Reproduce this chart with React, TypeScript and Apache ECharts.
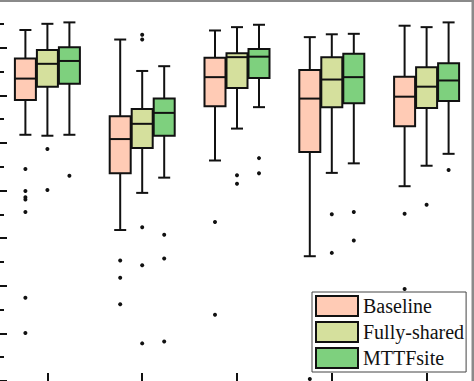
import React, { useEffect, useRef } from "react";
import * as echarts from "echarts";

// five groups (tick labels are cropped out of the reference)
const categories = ["G1", "G2", "G3", "G4", "G5"];
const methods = ["Baseline", "Fully-shared", "MTTFsite"];
const colors = ["#FFCBB5", "#D5E09D", "#7ED07E"];

// [min, Q1, median, Q3, max] per group
const baselineBoxes = [
  [5.17, 5.9, 6.35, 6.77, 7.37],
  [3.17, 4.36, 5.08, 5.56, 7.17],
  [4.63, 5.77, 6.38, 6.79, 7.36],
  [2.62, 4.81, 5.93, 6.53, 7.22],
  [4.09, 5.35, 5.97, 6.39, 7.46],
];
const fullyBoxes = [
  [5.15, 6.18, 6.66, 6.95, 7.5],
  [3.95, 4.89, 5.4, 5.71, 6.51],
  [5.3, 6.15, 6.8, 6.88, 7.43],
  [4.37, 5.75, 6.33, 6.8, 7.28],
  [4.52, 5.73, 6.18, 6.59, 7.43],
];
const mttfBoxes = [
  [5.17, 6.24, 6.72, 7.01, 7.53],
  [4.27, 5.15, 5.63, 5.93, 6.61],
  [5.75, 6.36, 6.81, 6.97, 7.48],
  [4.57, 5.83, 6.38, 6.87, 7.29],
  [4.77, 5.88, 6.31, 6.67, 7.53],
];

// outliers per group
const baselineOutliers = [
  [4.45, 3.99, 3.86, 3.81, 3.55, 1.75, 1.01],
  [2.53, 2.17, 1.61],
  [3.34, 1.39],
  [0.04],
  [3.51, 1.93],
];
const fullyOutliers = [
  [4.87, 4.01],
  [7.27, 7.17, 3.23, 2.43, 0.79],
  [4.32, 4.14],
  [3.5, 2.69],
  [3.7],
];
const mttfOutliers = [
  [4.31],
  [3.07, 2.57, 0.83],
  [4.68, 4.36],
  [3.55, 2.95],
  [4.43],
];

const allBoxes = [baselineBoxes, fullyBoxes, mttfBoxes];
const allOutliers = [baselineOutliers, fullyOutliers, mttfOutliers];
const offsets = [-22, 0, 22];

const INK = "#111";
const SERIF = "'Liberation Serif', 'Times New Roman', serif";

export default function App() {
  const ref = useRef<HTMLDivElement>(null);

  useEffect(() => {
    if (!ref.current) return;
    const chart = echarts.init(ref.current, null, { renderer: "svg" });

    const boxSeries = methods.map((name, si) => ({
      type: "custom",
      name,
      itemStyle: { color: colors[si], borderColor: INK, borderWidth: 2 },
      encode: { x: 0, y: [1, 2, 3, 4, 5] },
      data: allBoxes[si].map((b, ci) => [ci, ...b]),
      z: 2,
      renderItem: (params: any, api: any) => {
        const c = api.value(0);
        const off = offsets[si];
        const pMin = api.coord([c, api.value(1)]);
        const pQ1 = api.coord([c, api.value(2)]);
        const pMed = api.coord([c, api.value(3)]);
        const pQ3 = api.coord([c, api.value(4)]);
        const pMax = api.coord([c, api.value(5)]);
        const x = pMin[0] + off;
        const hw = 10.5;
        const cap = 6;
        const ls = { stroke: INK, lineWidth: 2 };
        return {
          type: "group",
          children: [
            { type: "line", shape: { x1: x, y1: pMax[1], x2: x, y2: pQ3[1] }, style: ls },
            { type: "line", shape: { x1: x, y1: pQ1[1], x2: x, y2: pMin[1] }, style: ls },
            { type: "line", shape: { x1: x - cap, y1: pMax[1], x2: x + cap, y2: pMax[1] }, style: ls },
            { type: "line", shape: { x1: x - cap, y1: pMin[1], x2: x + cap, y2: pMin[1] }, style: ls },
            {
              type: "rect",
              shape: { x: x - hw, y: pQ3[1], width: hw * 2, height: pQ1[1] - pQ3[1] },
              style: { fill: colors[si], stroke: INK, lineWidth: 2 },
            },
            { type: "line", shape: { x1: x - hw, y1: pMed[1], x2: x + hw, y2: pMed[1] }, style: ls },
          ],
        };
      },
    }));

    const outlierSeries = methods.map((name, si) => ({
      type: "scatter",
      name: name + " outliers",
      symbol: "circle",
      symbolSize: 4,
      symbolOffset: [offsets[si], 0],
      itemStyle: { color: INK, opacity: 1 },
      data: allOutliers[si].flatMap((vals, ci) => vals.map((v) => [ci, v])),
      z: 3,
    }));

    chart.setOption({
      animation: false,
      grid: { left: 0, top: 0, width: 474, height: 381 },
      xAxis: {
        type: "category",
        data: categories,
        boundaryGap: true,
        axisLine: { show: false },
        axisTick: {
          show: true,
          alignWithLabel: true,
          inside: true,
          length: 8,
          lineStyle: { color: INK, width: 2 },
        },
        axisLabel: { show: false },
        splitLine: { show: false },
      },
      yAxis: {
        type: "value",
        min: 0,
        max: 8,
        interval: 1,
        axisLine: { show: false },
        axisTick: { show: true, inside: true, length: 7, lineStyle: { color: INK, width: 2 } },
        minorTick: { show: true, splitNumber: 2, length: 4, lineStyle: { color: INK, width: 2 } },
        axisLabel: { show: false },
        splitLine: { show: false },
      },
      legend: {
        left: 312,
        top: 292,
        orient: "vertical",
        backgroundColor: "#fff",
        borderColor: "#444",
        borderWidth: 1,
        padding: [3, 2, 3, 3],
        itemWidth: 42,
        itemHeight: 20,
        itemGap: 4,
        icon: "rect",
        textStyle: { fontFamily: SERIF, fontSize: 20, color: INK },
        data: methods.map((name, si) => ({
          name,
          itemStyle: { color: colors[si], borderColor: INK, borderWidth: 2 },
        })),
        z: 10,
      },
      graphic: [
        { type: "rect", shape: { x: 0, y: 0, width: 474, height: 2 }, style: { fill: "#8a8a8a" }, z: 100 },
        { type: "rect", shape: { x: 471.5, y: 0, width: 2.5, height: 381 }, style: { fill: "#8a8a8a" }, z: 100 },
      ],
      series: [...boxSeries, ...outlierSeries],
    });

    return () => chart.dispose();
  }, []);

  return (
    <div
      ref={ref}
      style={{ position: "absolute", left: 0, top: 0, width: 474, height: 381 }}
    />
  );
}
